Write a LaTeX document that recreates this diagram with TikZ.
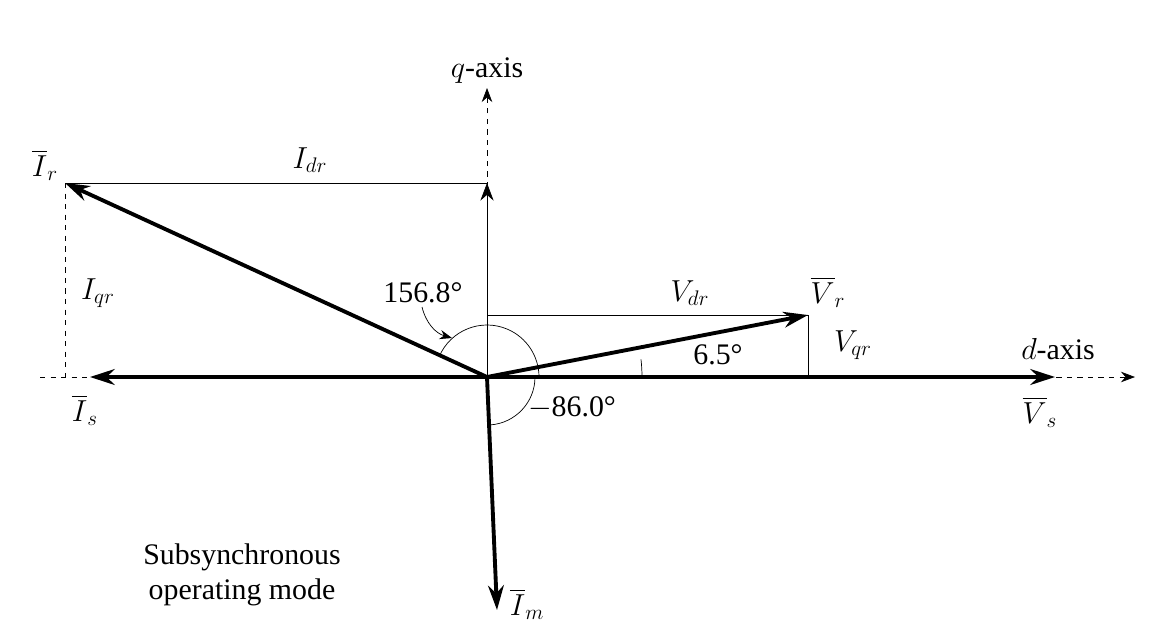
\documentclass[tikz,border=0pt]{standalone}
\usepackage{amsmath}
\usepackage{fontspec}
\setmainfont{Liberation Serif}
\usetikzlibrary{arrows.meta}
\tikzset{
  phasor/.style={line width=2.2pt, -{Stealth[length=14pt,width=9pt]}},
  axis/.style={dashed, thin, -{Stealth[length=8pt]}},
  comp/.style={thin},
  lbl/.style={font=\fontsize{17}{20}\selectfont, inner sep=1pt}
}
\begin{document}
\begin{tikzpicture}[x=0.02cm,y=-0.02cm]
\useasboundingbox (0,0) rectangle (1174,640);
\coordinate (O) at (487,377);
\coordinate (dend) at (1135,377);
\coordinate (dstart) at (40,377);
\coordinate (qend) at (487,88);
\coordinate (Vs) at (1055,377);
\coordinate (Is) at (90,377);
\coordinate (Ir) at (65,183);
\coordinate (Im) at (497,610);
\coordinate (Vr) at (808,315);
\coordinate (Iq) at (487,183);
\coordinate (Vd) at (487,315);
\coordinate (Vq) at (808,377);
\coordinate (Ib) at (65,377);
% axes
\draw[dashed, thin] (dstart) -- (O);
\draw[axis] (O) -- (dend);
\draw[axis] (O) -- (qend);
\node[lbl, anchor=south] (qlab) at (487,86) {$q$-axis};
\node[lbl, anchor=south] (dlab) at (1058,362) {$d$-axis};
% components
\draw[comp, -{Stealth[length=10pt]}] (O) -- (Iq);
\draw[comp] (Ir) -- (Iq);
\draw[comp, dashed] (Ir) -- (Ib);
\draw[comp] (Vd) -- (Vr);
\draw[comp] (Vr) -- (Vq);
% phasors
\draw[phasor] (O) -- (Vs);
\draw[phasor] (O) -- (Is);
\draw[phasor] (O) -- (Ir);
\draw[phasor] (O) -- (Im);
\draw[phasor] (O) -- (Vr);
% angle arcs (y runs downwards)
\draw[thin] (O) ++(-156.8:52) arc[start angle=-156.8, end angle=0, radius=52];
\draw[thin] (O) ++(0:48) arc[start angle=0, end angle=86, radius=48];
\draw[thin] (O) ++(0:155) arc[start angle=0, end angle=-6.5, radius=155];
\draw[thin, -{Stealth[length=7pt]}] (422,307) to[bend right=30] (452,338);
% labels
\node[lbl] (lIr) at (45,165) {$\overline{I}_r$};
\node[lbl] (lIdr) at (310,160) {$I_{dr}$};
\node[lbl] (lIqr) at (98,293) {$I_{qr}$};
\node[lbl] (lang1) at (423,293) {156.8°};
\node[lbl] (lVdr) at (690,293) {$V_{dr}$};
\node[lbl] (lVr) at (828,292) {$\overline{V}_r$};
\node[lbl] (lVqr) at (853,345) {$V_{qr}$};
\node[lbl] (lang3) at (718,355) {6.5°};
\node[lbl] (lIs) at (85,410) {$\overline{I}_s$};
\node[lbl] (lang2) at (572,408) {$-$86.0°};
\node[lbl] (lVs) at (1040,412) {$\overline{V}_s$};
\node[lbl, align=center] (mode) at (242,575) {Subsynchronous\\operating mode};
\node[lbl] (lIm) at (527,604) {$\overline{I}_m$};
\end{tikzpicture}
\end{document}
